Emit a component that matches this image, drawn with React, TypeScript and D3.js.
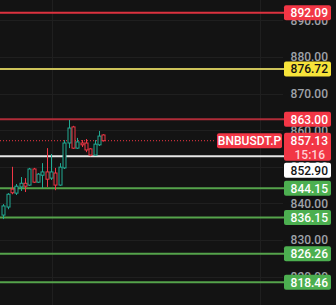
import React from "react";
import * as d3 from "d3";

const candleOpen = [836.8, 839.0, 843.9, 842.8, 844.5, 845.5, 845.0, 849.4, 845.8, 847.7, 848.6, 846.9, 848.3, 845.0, 849.7, 856.5, 860.9, 855.1, 856.5, 856.5, 854.9, 853.2, 856.0, 858.7];
const candleHigh = [839.8, 842.8, 850.0, 845.3, 847.2, 846.9, 849.7, 849.7, 848.3, 851.0, 855.1, 853.5, 849.7, 851.0, 857.3, 862.8, 861.2, 857.9, 857.3, 857.6, 855.1, 857.3, 859.8, 858.9];
const candleLow = [835.7, 838.4, 842.5, 842.3, 843.4, 843.1, 844.8, 845.6, 845.6, 844.2, 844.5, 846.4, 843.6, 844.8, 849.4, 855.1, 854.9, 854.9, 855.4, 854.0, 852.9, 853.0, 855.7, 856.9];
const candleClose = [839.3, 842.5, 842.9, 844.7, 845.5, 844.7, 849.4, 845.8, 848.0, 848.6, 846.6, 848.6, 845.0, 849.9, 856.5, 860.6, 855.1, 856.8, 856.0, 854.6, 853.2, 856.2, 858.4, 857.13];

const levelValues = [892.09, 876.72, 863.0, 852.9, 844.15, 836.15, 826.26, 818.46];
const levelKinds = ["red", "yellow", "darkred", "white", "green", "green", "green", "green"];

const tickValues = [820, 830, 840, 850, 860, 870, 880, 890];

const symbolName = "BNBUSDT.P";
const lastPrice = 857.13;
const countdown = "15:16";

const W = 336;
const H = 305;

const lineColor: Record<string, string> = {
  red: "#dc323f",
  darkred: "#b02c38",
  yellow: "#cdc35a",
  white: "#e6e6e6",
  green: "#55a34b",
};
const boxColor: Record<string, string> = {
  red: "#f23645",
  darkred: "#f23645",
  yellow: "#f7e43a",
  white: "#ffffff",
  green: "#4caf50",
};
const textColor: Record<string, string> = {
  red: "#ffffff",
  darkred: "#ffffff",
  yellow: "#131313",
  white: "#131313",
  green: "#ffffff",
};

export default function App() {
  const y = d3.scaleLinear().domain([818.46, 892.09]).range([282.2, 12.8]);
  const x = d3.scaleLinear().domain([0, candleOpen.length - 1]).range([3.3, 103.3]);
  const fmt = d3.format(".2f");

  const boxX = 284;
  const boxW = 47;
  const boxH = 15;
  const textRight = 328;
  const up = "#22ab94";
  const down = "#f23645";

  const lpY = y(lastPrice);
  const lpTop = lpY - 8;
  const lpBottom = lpTop + 28;

  const levelLabelY = levelValues.map((v) => {
    let cy = y(v);
    const top = cy - boxH / 2;
    const bottom = cy + boxH / 2;
    if (bottom > lpTop && top < lpBottom) {
      if (cy > lpY) cy = lpBottom + 2 + boxH / 2;
      else cy = lpTop - 2 - boxH / 2;
    }
    return cy;
  });

  const font = "Roboto, 'Noto Sans', sans-serif";

  return (
    <div style={{ position: "fixed", left: 0, top: 0, width: W, height: H }}>
      <svg width={W} height={H} style={{ display: "block", background: "#131313" }}>
        <rect x={0} y={0} width={W} height={H} fill="#131313" />
        {tickValues.map((t) => (
          <line key={"g" + t} x1={0} x2={283} y1={Math.round(y(t)) + 0.5} y2={Math.round(y(t)) + 0.5} stroke="#1f1f1f" strokeWidth={1} />
        ))}
        {[52, 260].map((gx) => (
          <line key={"v" + gx} x1={gx + 0.5} x2={gx + 0.5} y1={0} y2={H} stroke="#1f1f1f" strokeWidth={1} />
        ))}
        {tickValues.map((t) => (
          <text key={"t" + t} x={textRight} y={y(t)} dy="0.36em" textAnchor="end" fontFamily={font} fontSize={12} fontWeight={500} fill="#9fa2a9">
            {fmt(t)}
          </text>
        ))}
        {levelValues.map((v, i) => (
          <line key={"l" + i} x1={0} x2={boxX} y1={y(v)} y2={y(v)} stroke={lineColor[levelKinds[i]]} strokeWidth={2} />
        ))}
        <line x1={0} x2={216} y1={lpY} y2={lpY} stroke="#f23645" strokeWidth={1} strokeDasharray="1,2" />
        {candleOpen.map((o, i) => {
          const c = candleClose[i];
          const col = c >= o ? up : down;
          const cx = Math.round(x(i));
          const top = y(Math.max(o, c));
          const bot = y(Math.min(o, c));
          return (
            <g key={"c" + i}>
              <line x1={cx + 0.5} x2={cx + 0.5} y1={y(candleHigh[i])} y2={y(candleLow[i])} stroke={col} strokeWidth={1} />
              <rect x={cx - 1} y={top} width={3} height={Math.max(1, bot - top)} fill="#131313" stroke={col} strokeWidth={1} />
            </g>
          );
        })}
        {levelValues.map((v, i) => {
          const cy = levelLabelY[i];
          const k = levelKinds[i];
          return (
            <g key={"b" + i}>
              <rect x={boxX} y={cy - boxH / 2} width={boxW} height={boxH} rx={2} fill={boxColor[k]} />
              <text x={textRight} y={cy} dy="0.36em" textAnchor="end" fontFamily={font} fontSize={12} fontWeight={500} fill={textColor[k]}>
                {fmt(v)}
              </text>
            </g>
          );
        })}
        <rect x={217} y={lpY - 7.5} width={65} height={15} rx={2} fill="#f23645" />
        <text x={249.5} y={lpY} dy="0.36em" textAnchor="middle" fontFamily={font} fontSize={12} fontWeight={500} fill="#ffffff">
          {symbolName}
        </text>
        <rect x={boxX} y={lpTop} width={boxW} height={28} rx={2} fill="#f23645" />
        <text x={textRight} y={lpY} dy="0.36em" textAnchor="end" fontFamily={font} fontSize={12} fontWeight={500} fill="#ffffff">
          {fmt(lastPrice)}
        </text>
        <text x={textRight - 3} y={lpY + 13.5} dy="0.36em" textAnchor="end" fontFamily={font} fontSize={12} fontWeight={500} fill="#ffd0d4">
          {countdown}
        </text>
      </svg>
    </div>
  );
}
